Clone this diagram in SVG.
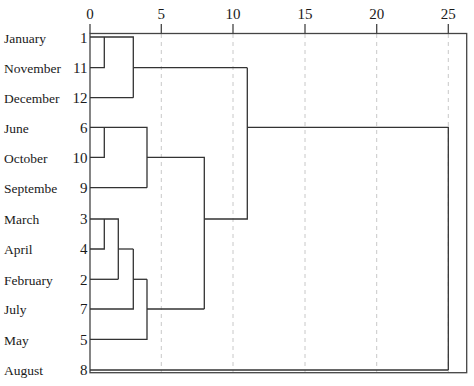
<svg xmlns="http://www.w3.org/2000/svg" width="474" height="386" viewBox="0 0 474 386">
<style>
.lbl{font-family:"Liberation Serif","Times New Roman",serif;font-size:13.5px;fill:#1a1a1a}
.num{font-family:"Liberation Serif","Times New Roman",serif;font-size:15px;fill:#1a1a1a;text-anchor:end}
.ax{font-family:"Liberation Serif","Times New Roman",serif;font-size:15px;fill:#1a1a1a;text-anchor:middle}
.grid{stroke:#c8c8c8;stroke-width:1;stroke-dasharray:4 4;fill:none}
.frame{stroke:#444;stroke-width:1.3;fill:none}
.tick{stroke:#444;stroke-width:1.3}
.link{stroke:#333;stroke-width:1.3;fill:none}
</style>
<rect width="474" height="386" fill="#fff"/>
<g id="axis">
<g class="grid">
<line x1="161.3" y1="34" x2="161.3" y2="372"/>
<line x1="233" y1="34" x2="233" y2="372"/>
<line x1="305" y1="34" x2="305" y2="372"/>
<line x1="376.7" y1="34" x2="376.7" y2="372"/>
<line x1="448.3" y1="34" x2="448.3" y2="372"/>
</g>
<rect class="frame" x="90" y="33.5" width="376.7" height="339.2"/>
<g class="tick">
<line x1="90" y1="24" x2="90" y2="33.5"/>
<line x1="161.3" y1="24" x2="161.3" y2="33.5"/>
<line x1="233" y1="24" x2="233" y2="33.5"/>
<line x1="305" y1="24" x2="305" y2="33.5"/>
<line x1="376.7" y1="24" x2="376.7" y2="33.5"/>
<line x1="448.3" y1="24" x2="448.3" y2="33.5"/>
</g>
<text class="ax" x="90" y="19">0</text>
<text class="ax" x="161.3" y="19">5</text>
<text class="ax" x="233" y="19">10</text>
<text class="ax" x="305" y="19">15</text>
<text class="ax" x="376.7" y="19">20</text>
<text class="ax" x="448.3" y="19">25</text>
</g>
<g id="leaf-january"><text class="lbl" x="4" y="42.5">January</text><text class="num" x="87.5" y="42.5">1</text></g>
<g id="leaf-november"><text class="lbl" x="4" y="73">November</text><text class="num" x="87.5" y="73">11</text></g>
<g id="leaf-december"><text class="lbl" x="4" y="103">December</text><text class="num" x="87.5" y="103">12</text></g>
<g id="leaf-june"><text class="lbl" x="4" y="132.5">June</text><text class="num" x="87.5" y="132.5">6</text></g>
<g id="leaf-october"><text class="lbl" x="4" y="162.5">October</text><text class="num" x="87.5" y="162.5">10</text></g>
<g id="leaf-september"><text class="lbl" x="4" y="193">Septembe</text><text class="num" x="87.5" y="193">9</text></g>
<g id="leaf-march"><text class="lbl" x="4" y="224">March</text><text class="num" x="87.5" y="224">3</text></g>
<g id="leaf-april"><text class="lbl" x="4" y="254">April</text><text class="num" x="87.5" y="254">4</text></g>
<g id="leaf-february"><text class="lbl" x="4" y="284.5">February</text><text class="num" x="87.5" y="284.5">2</text></g>
<g id="leaf-july"><text class="lbl" x="4" y="314">July</text><text class="num" x="87.5" y="314">7</text></g>
<g id="leaf-may"><text class="lbl" x="4" y="344.5">May</text><text class="num" x="87.5" y="344.5">5</text></g>
<g id="leaf-august"><text class="lbl" x="4" y="375">August</text><text class="num" x="87.5" y="375">8</text></g>
<g id="connectors" class="link">
<path d="M90 37 H133.3 V97.7"/>
<path d="M90 67.7 H104.3 V37"/>
<path d="M90 97.7 H133.3"/>
<path d="M133.3 67.7 H247.3"/>
<path d="M90 127.3 H147 V187.7"/>
<path d="M90 157.3 H104.3 V127.3"/>
<path d="M90 187.7 H147"/>
<path d="M147 157.3 H204.3 V309"/>
<path d="M90 219 H118.3 V279.3"/>
<path d="M90 249 H104.3 V219"/>
<path d="M90 279.3 H118.3"/>
<path d="M118.3 249 H133.3"/>
<path d="M90 309 H133.3 V249"/>
<path d="M133.3 279.3 H147"/>
<path d="M90 339.3 H147 V279.3"/>
<path d="M147 309 H204.3"/>
<path d="M204.3 219 H247.3 V67.7"/>
<path d="M247.3 127.3 H448.3 V370"/>
<path d="M90 370 H448.3"/>
</g>
</svg>
